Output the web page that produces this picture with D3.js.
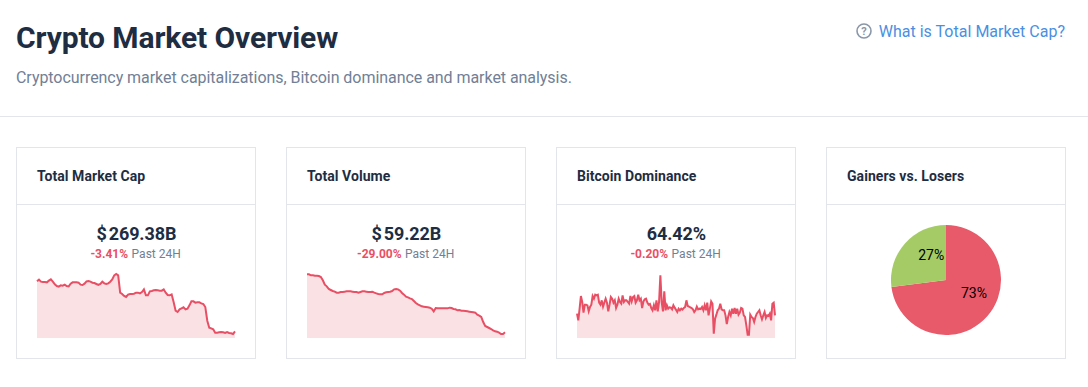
<!DOCTYPE html>
<html>
<head>
<meta charset="utf-8">
<script src="https://cdn.jsdelivr.net/npm/d3@7"></script>
<style>
  html, body { margin: 0; padding: 0; background: #fff; overflow: hidden; }
  svg { display: block; }
  text { font-family: Roboto, sans-serif; }
</style>
</head>
<body>
<div id="chart"></div>
<script>
// card contents
var card_titles = ["Total Market Cap", "Total Volume", "Bitcoin Dominance", "Gainers vs. Losers"];
var card_values = ["269.38B", "59.22B", "64.42%"];
var card_units = ["$", "$", ""];
var card_changes = ["-3.41%", "-29.00%", "-0.20%"];
var change_label = "Past 24H";

// sparkline values (relative height above the baseline, 0-195)
var market_cap = [170,175,169,168,168,167,172,176,169,161,156,154,158,157,160,156,155,163,167,167,167,166,160,159,163,170,171,169,166,165,162,159,162,169,164,162,164,169,176,188,192,188,136,132,126,123,130,132,132,133,136,136,134,138,146,128,128,140,141,143,144,143,142,142,146,136,129,128,131,108,82,78,86,89,92,86,88,98,110,110,106,107,107,104,102,93,52,31,29,26,16,16,17,18,17,15,18,15,14,12,20];
var total_volume = [191,191,188,188,187,187,186,183,173,160,155,147,144,141,139,136,136,138,138,139,140,140,140,139,138,138,136,138,140,140,139,138,138,139,136,134,132,131,131,135,137,138,139,141,146,147,146,142,135,130,124,122,119,117,111,105,101,98,95,94,93,92,91,88,80,90,89,89,89,89,89,89,91,90,87,86,83,84,82,82,81,80,79,78,77,76,70,67,63,48,36,33,30,27,23,20,19,16,12,12,17];
var btc_dominance = [73,53,88,126,108,76,100,100,98,80,93,100,126,118,130,128,130,106,100,113,94,106,118,106,80,100,123,118,106,113,90,100,118,108,103,128,108,113,113,108,103,126,110,123,126,106,113,130,113,118,90,110,116,118,106,100,102,90,83,98,83,113,80,108,188,108,80,140,83,98,88,92,91,86,98,91,85,78,88,83,88,85,90,93,113,96,94,92,90,86,78,83,94,86,88,87,93,83,98,83,106,68,88,110,103,13,58,70,83,88,103,86,83,83,68,42,63,78,68,88,73,90,73,88,70,76,90,88,68,63,38,10,10,70,63,60,48,63,73,78,83,68,56,68,78,60,68,66,73,53,103,106,68];

// pie
var pie_labels = ["Losers", "Gainers"];
var pie_values = [73, 27];
var pie_colors = ["#e8596a", "#a5cb66"];

var width = 1088, height = 387;
var card_x = d3.scalePoint().domain(card_titles).range([16, 826]);
var card_w = 240;
var card_top = 147.5, card_bottom = 358.5, card_head = 204.5;

var text_dark = "#1e2d42", text_grey = "#718096", line_red = "#e94f64", border = "#e2e5ec";

var svg = d3.select("#chart").append("svg")
  .attr("width", width)
  .attr("height", height);

// page header
svg.append("text")
  .attr("x", 16).attr("y", 48)
  .attr("font-size", 30).attr("font-weight", 700)
  .attr("letter-spacing", -0.1)
  .attr("fill", text_dark)
  .text("Crypto Market Overview");
svg.append("text")
  .attr("x", 16).attr("y", 83)
  .attr("font-size", 16).attr("letter-spacing", -0.05)
  .attr("fill", text_grey)
  .text("Cryptocurrency market capitalizations, Bitcoin dominance and market analysis.");

svg.append("circle")
  .attr("cx", 864).attr("cy", 31).attr("r", 7)
  .attr("fill", "none").attr("stroke", "#8a97a8").attr("stroke-width", 1.6);
svg.append("text")
  .attr("x", 864).attr("y", 35)
  .attr("text-anchor", "middle")
  .attr("font-size", 11).attr("font-weight", 700)
  .attr("fill", "#8a97a8")
  .text("?");
svg.append("text")
  .attr("x", 1065).attr("y", 37)
  .attr("text-anchor", "end")
  .attr("font-size", 16).attr("letter-spacing", 0.02)
  .attr("fill", "#4a90e2")
  .text("What is Total Market Cap?");

svg.append("line")
  .attr("x1", 0).attr("x2", width)
  .attr("y1", 116.5).attr("y2", 116.5)
  .attr("stroke", border);

// cards
var cards = svg.selectAll(".card")
  .data(card_titles)
  .enter().append("g")
  .attr("class", "card")
  .attr("transform", function(d) { return "translate(" + card_x(d) + ",0)"; });

cards.append("rect")
  .attr("x", 0.5).attr("y", card_top)
  .attr("width", card_w - 1).attr("height", card_bottom - card_top)
  .attr("fill", "#fff").attr("stroke", border);
cards.append("line")
  .attr("x1", 0.5).attr("x2", card_w - 0.5)
  .attr("y1", card_head).attr("y2", card_head)
  .attr("stroke", border);
cards.append("text")
  .attr("x", 21).attr("y", 181)
  .attr("font-size", 14).attr("font-weight", 700)
  .attr("letter-spacing", 0.05)
  .attr("fill", text_dark)
  .text(function(d) { return d; });

// sparklines
var spark_series = [market_cap, total_volume, btc_dominance];
var y = d3.scaleLinear().domain([0, 195]).range([338, 273]);

spark_series.forEach(function(values, i) {
  var g = svg.append("g")
    .attr("transform", "translate(" + card_x(card_titles[i]) + ",0)");

  var x = d3.scaleLinear().domain([0, values.length - 1]).range([21, 219]);

  var value_text = g.append("text")
    .attr("x", 120.4).attr("y", 240)
    .attr("text-anchor", "middle")
    .attr("font-size", 18).attr("font-weight", 700)
    .attr("letter-spacing", -0.1)
    .attr("fill", text_dark);
  if (card_units[i]) {
    value_text.append("tspan").text(card_units[i]);
    value_text.append("tspan").attr("dx", 2).text(card_values[i]);
  } else {
    value_text.text(card_values[i]);
  }

  var sub = g.append("text")
    .attr("x", 119.6).attr("y", 258)
    .attr("text-anchor", "middle")
    .attr("font-size", 12);
  sub.append("tspan")
    .attr("font-weight", 700).attr("fill", line_red)
    .text(card_changes[i]);
  sub.append("tspan")
    .attr("dx", 3.5).attr("fill", text_grey)
    .text(change_label);

  var area = d3.area()
    .x(function(d, j) { return x(j); })
    .y0(y(0))
    .y1(function(d) { return y(d); });
  var line = d3.line()
    .x(function(d, j) { return x(j); })
    .y(function(d) { return y(d); });

  g.append("path")
    .datum(values)
    .attr("d", area)
    .attr("fill", "#fae1e4");
  g.append("path")
    .datum(values)
    .attr("d", line)
    .attr("fill", "none")
    .attr("stroke", line_red)
    .attr("stroke-width", 2);
});

// gainers vs losers pie
var radius = 55;
var pie_g = svg.append("g")
  .attr("transform", "translate(946,280)");
var arcs = d3.pie().sort(null)(pie_values);
var arc = d3.arc().innerRadius(0).outerRadius(radius);

pie_g.selectAll("path")
  .data(arcs)
  .enter().append("path")
  .attr("d", arc)
  .attr("fill", function(d, i) { return pie_colors[i]; });

pie_g.selectAll("text")
  .data(arcs)
  .enter().append("text")
  .attr("transform", function(d) {
    var r = d.data > 50 ? 20 : 37;
    return "translate(" + d3.arc().innerRadius(r).outerRadius(r).centroid(d) + ")";
  })
  .attr("dy", "0.35em")
  .attr("font-size", 14)
  .attr("fill", "#000")
  .text(function(d) { return d.data + "%"; });
</script>
</body>
</html>
